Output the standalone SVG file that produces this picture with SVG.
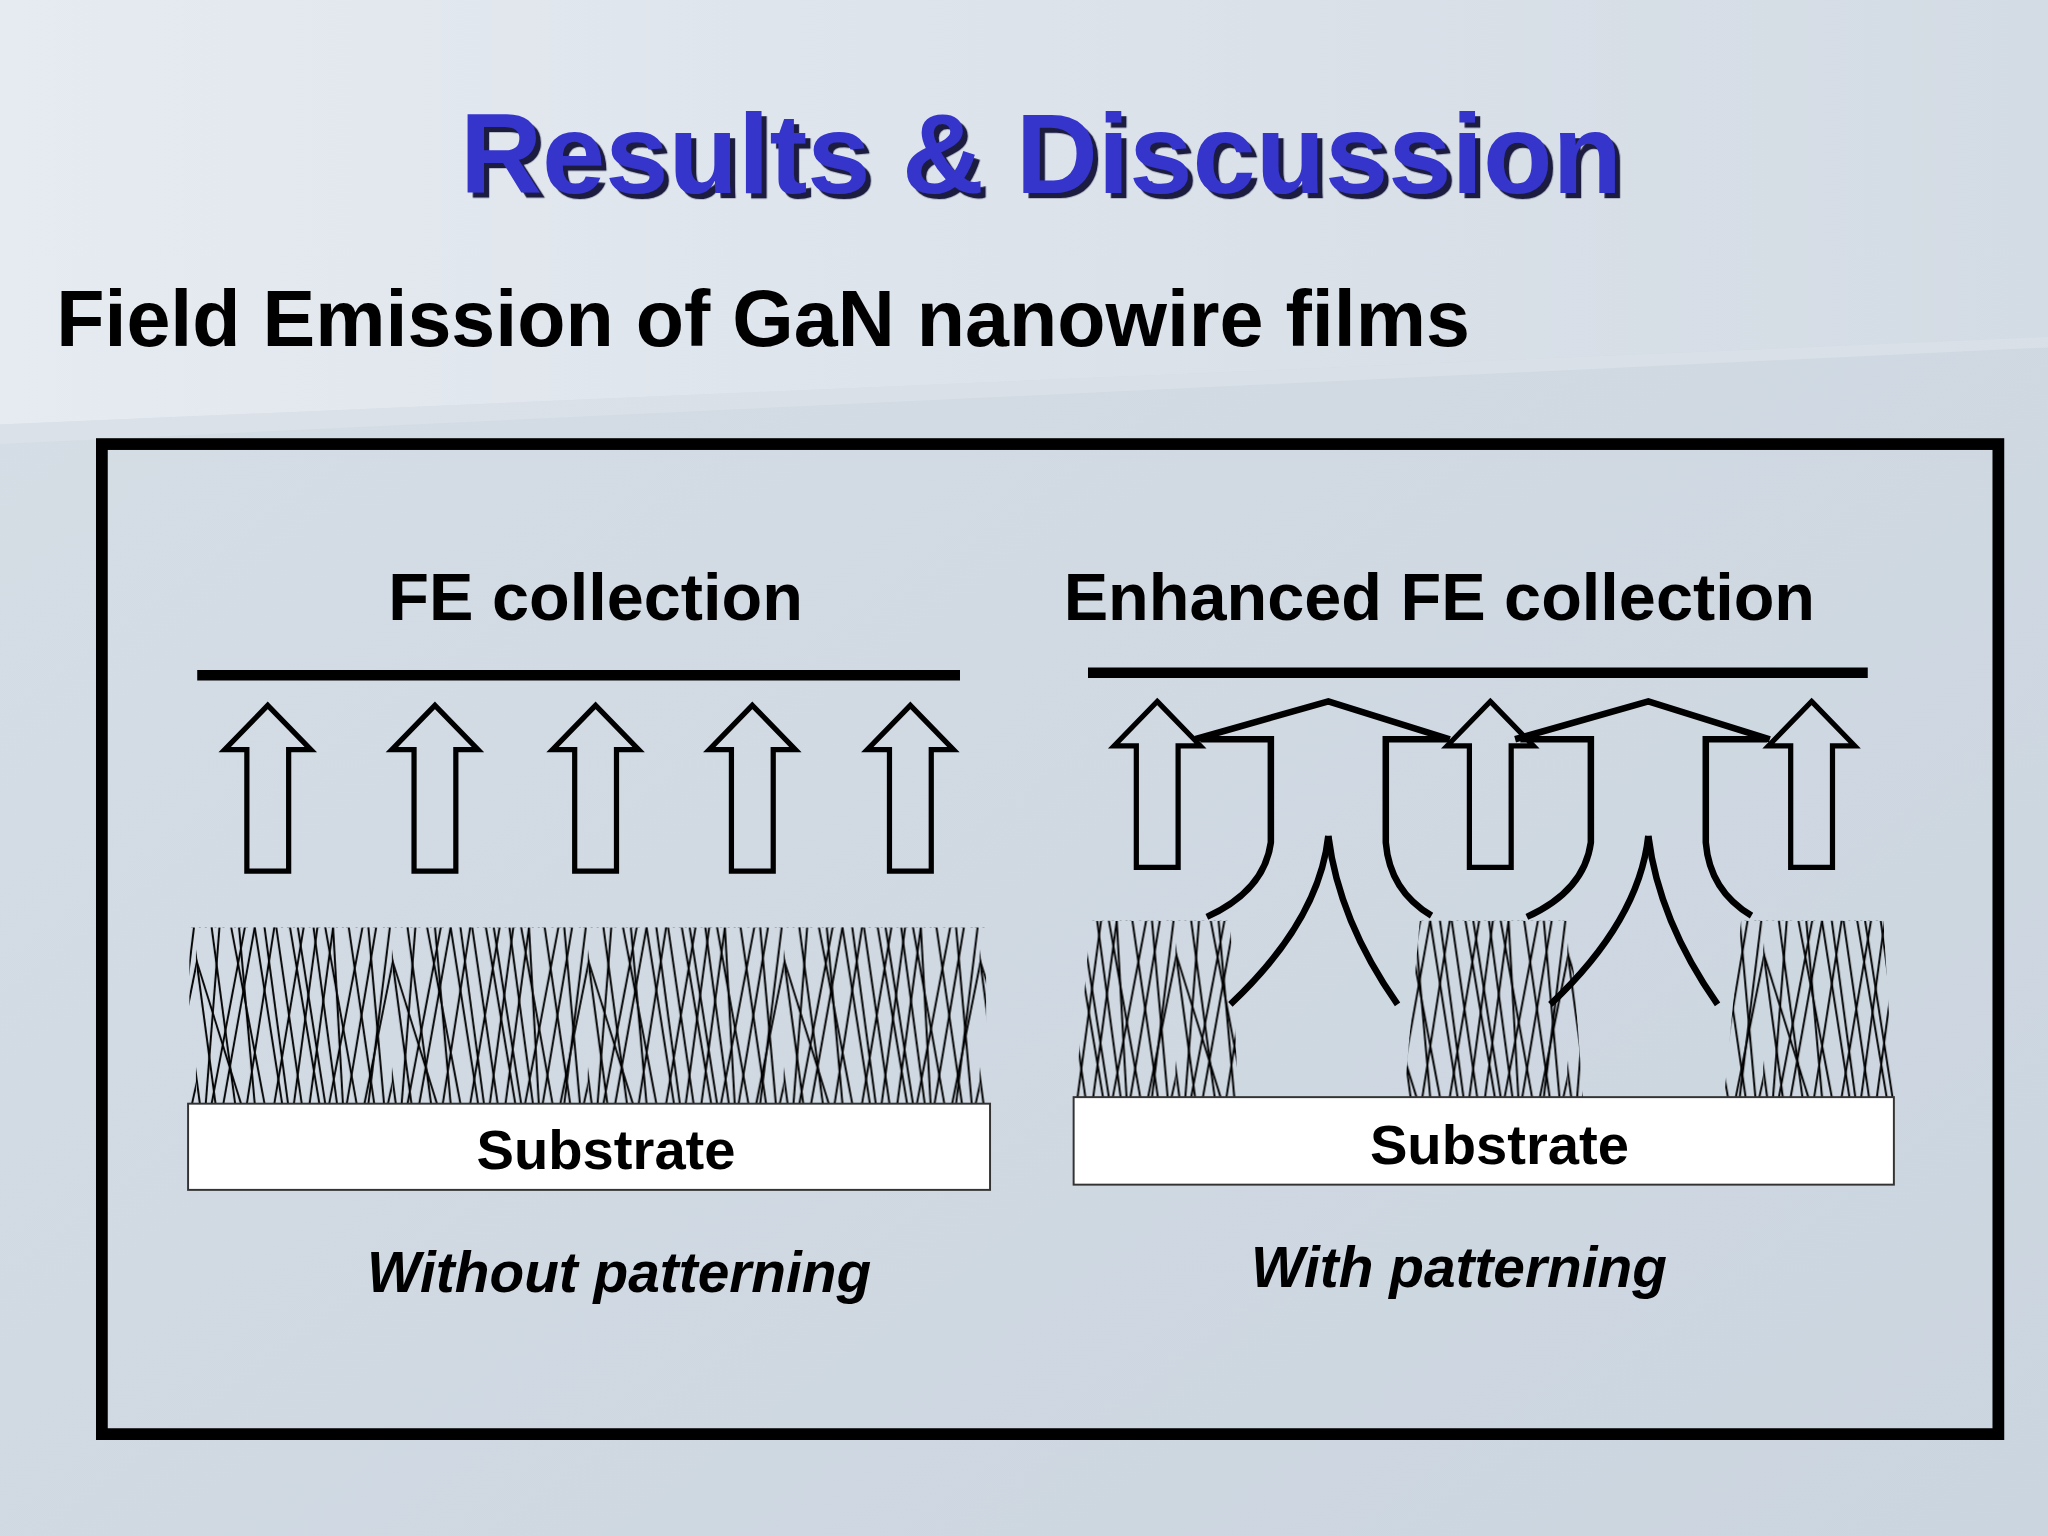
<svg xmlns="http://www.w3.org/2000/svg" width="2048" height="1536" viewBox="0 0 2048 1536">
<defs>
<linearGradient id="bg" x1="0" y1="0" x2="1" y2="1"><stop offset="0" stop-color="#d6dee6"/><stop offset="1" stop-color="#cbd5df"/></linearGradient>
<linearGradient id="band" x1="0" y1="0" x2="1" y2="0"><stop offset="0" stop-color="#e6ebf1"/><stop offset="1" stop-color="#d3dbe4"/></linearGradient>
<filter id="sh" x="-5%" y="-20%" width="110%" height="140%"><feDropShadow dx="4" dy="4" stdDeviation="0.5" flood-color="#1c1c40"/></filter>
<pattern id="wires" patternUnits="userSpaceOnUse" width="100" height="135" x="0" y="710" patternTransform="scale(1.5,1)">
<g stroke="#000" stroke-width="1">
<line x1="5" y1="135" x2="12" y2="0"/><line x1="10" y1="135" x2="-2" y2="0"/><line x1="14" y1="135" x2="30" y2="0"/><line x1="20" y1="135" x2="8" y2="0"/><line x1="26" y1="135" x2="40" y2="0"/><line x1="30" y1="135" x2="22" y2="0"/><line x1="35" y1="135" x2="18" y2="0"/><line x1="40" y1="135" x2="55" y2="0"/><line x1="44" y1="135" x2="30" y2="0"/><line x1="50" y1="135" x2="62" y2="0"/><line x1="54" y1="135" x2="41" y2="0"/><line x1="58" y1="135" x2="70" y2="0"/><line x1="63" y1="135" x2="48" y2="0"/><line x1="68" y1="135" x2="85" y2="0"/><line x1="72" y1="135" x2="60" y2="0"/><line x1="77" y1="135" x2="92" y2="0"/><line x1="82" y1="135" x2="66" y2="0"/><line x1="86" y1="135" x2="104" y2="0"/><line x1="91" y1="135" x2="78" y2="0"/><line x1="96" y1="135" x2="88" y2="0"/><line x1="8" y1="135" x2="25" y2="0"/><line x1="47" y1="135" x2="35" y2="0"/><line x1="66" y1="135" x2="52" y2="0"/><line x1="88" y1="135" x2="99" y2="0"/><line x1="23" y1="135" x2="-5" y2="0"/><line x1="75" y1="135" x2="70" y2="0"/><line x1="98" y1="135" x2="118" y2="0"/><line x1="2" y1="135" x2="-10" y2="0"/>
</g>
</pattern>
<pattern id="wires2" href="#wires" y="705"/>
<path id="arrow" d="M0,0 L33,34 L16,34 L16,127 L-16,127 L-16,34 L-33,34 Z" fill="none" stroke="#000" stroke-width="4" stroke-linejoin="miter"/>
<g id="field" fill="none" stroke="#000" stroke-width="5">
<path d="M915,566 L1017,537 L1110,566"/>
<path d="M919,566 H973 V645 Q968,682 924,702"/>
<path d="M1108,566 H1061 V645 Q1064,682 1096,701"/>
<path d="M1017,640 Q1010,705 942,769"/>
<path d="M1017,640 Q1025,705 1070,769"/>
</g>
</defs>
<style>
.t{font-family:"Liberation Sans",Arial,sans-serif;font-weight:bold;fill:#000}
</style>
<rect width="2048" height="1536" fill="url(#bg)"/>
<g transform="scale(1.306122)">
<polygon points="0,0 1568,0 1568,258 0,325" fill="url(#band)"/>
<polygon points="0,325 1568,258 1568,266 0,340" fill="#dde3ea" opacity="0.7"/>
<text id="title" x="797" y="148" text-anchor="middle" class="t" font-size="87" style="fill:#3535cc" filter="url(#sh)">Results &amp; Discussion</text>
<text id="subtitle" x="43" y="265" class="t" font-size="60.5">Field Emission of GaN nanowire films</text>
<rect id="frame" x="78" y="340" width="1452" height="758" fill="none" stroke="#000" stroke-width="9"/>
<g id="left">
<text x="456" y="475" text-anchor="middle" class="t" font-size="51">FE collection</text>
<line x1="151" y1="517" x2="735" y2="517" stroke="#000" stroke-width="8"/>
<use href="#arrow" x="205" y="540"/><use href="#arrow" x="333" y="540"/><use href="#arrow" x="456" y="540"/><use href="#arrow" x="576" y="540"/><use href="#arrow" x="697" y="540"/>
<rect x="145" y="710" width="610" height="135" fill="url(#wires)"/>
<rect x="144" y="845" width="614" height="66" fill="#fff" stroke="#333" stroke-width="1.5"/>
<text x="464" y="895" text-anchor="middle" class="t" font-size="43">Substrate</text>
<text x="474" y="989" text-anchor="middle" class="t" font-size="43.5" font-style="italic">Without patterning</text>
</g>
<g id="right">
<text x="1102" y="475" text-anchor="middle" class="t" font-size="51">Enhanced FE collection</text>
<line x1="833" y1="515" x2="1430" y2="515" stroke="#000" stroke-width="8"/>
<use href="#arrow" x="886" y="537"/><use href="#arrow" x="1141" y="537"/><use href="#arrow" x="1387" y="537"/>
<use href="#field"/><use href="#field" x="245"/>
<polygon points="835,705 942,705 948,840 823,840" fill="url(#wires2)"/>
<polygon points="1087,705 1202,705 1212,840 1075,840" fill="url(#wires2)"/>
<polygon points="1333,705 1442,705 1450,840 1320,840" fill="url(#wires2)"/>
<rect x="822" y="840" width="628" height="67" fill="#fff" stroke="#333" stroke-width="1.5"/>
<text x="1148" y="891" text-anchor="middle" class="t" font-size="43">Substrate</text>
<text x="1117" y="985" text-anchor="middle" class="t" font-size="43.5" font-style="italic">With patterning</text>
</g>
</g>
</svg>
